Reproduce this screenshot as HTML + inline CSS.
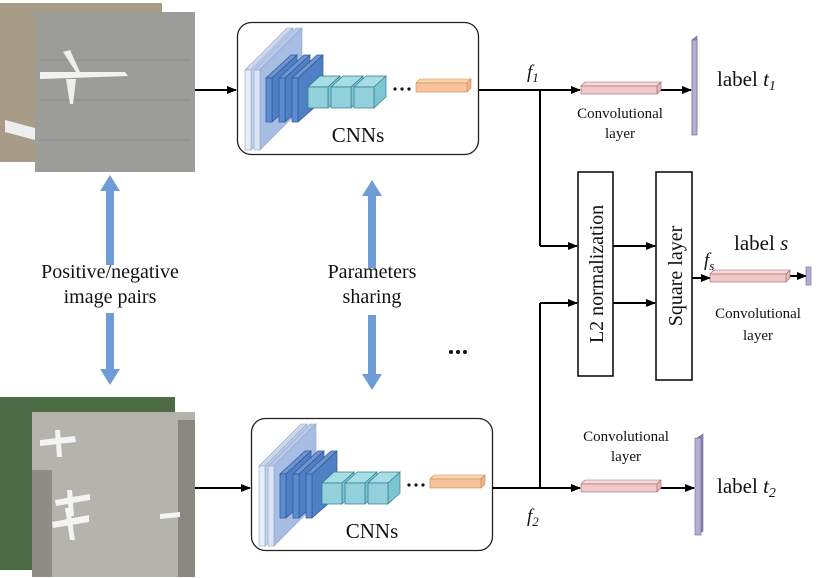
<!DOCTYPE html>
<html><head><meta charset="utf-8"><style>
html,body{margin:0;padding:0;background:#fff}
svg{display:block}
text{font-family:"Liberation Serif",serif;fill:#111}
</style></head><body>
<svg width="820" height="578" viewBox="0 0 820 578" xmlns="http://www.w3.org/2000/svg">
<defs>
<marker id="ah" markerWidth="10" markerHeight="8" refX="9" refY="4" orient="auto" markerUnits="userSpaceOnUse">
<path d="M0,0 L10,4 L0,8 z" fill="#000"/></marker>
<g id="cnn">
<rect x="0.5" y="0.5" width="241" height="132" rx="14" fill="#fff" stroke="#222" stroke-width="1.3"/>
<polygon points="8,48 50,6 56,6 14,48" fill="#cdd8ec" stroke="#8fa6cf" stroke-width="0.6"/>
<polygon points="14,48 56,6 56,86 14,128" fill="#c3d1eb" stroke="#8fa6cf" stroke-width="0.6"/>
<rect x="8" y="48" width="6" height="80" fill="#e8eef8" stroke="#8fa6cf" stroke-width="0.6"/>
<polygon points="17,48 59,6 65,6 23,48" fill="#b8c9e8" stroke="#8fa6cf" stroke-width="0.6"/>
<polygon points="23,48 65,6 65,86 23,128" fill="#a8bde3" stroke="#8fa6cf" stroke-width="0.6"/>
<rect x="17" y="48" width="6" height="80" fill="#dbe4f4" stroke="#8fa6cf" stroke-width="0.6"/>
<g stroke="#2f5597" stroke-width="0.7">
<polygon points="29,56 54,33 60,33 35,56" fill="#6f95d0"/>
<polygon points="35,56 60,33 60,78 35,100" fill="#4f7fc4"/>
<rect x="29" y="56" width="6" height="44" fill="#5b8bd0"/>
<polygon points="42,56 67,33 73,33 48,56" fill="#6f95d0"/>
<polygon points="48,56 73,33 73,78 48,100" fill="#4f7fc4"/>
<rect x="42" y="56" width="6" height="44" fill="#5b8bd0"/>
<polygon points="55,56 80,33 86,33 61,56" fill="#6f95d0"/>
<polygon points="61,56 86,33 86,78 61,100" fill="#4f7fc4"/>
<rect x="55" y="56" width="6" height="44" fill="#5b8bd0"/>
</g>
<g stroke="#2e7d8c" stroke-width="0.7">
<polygon points="71,65 83,54 103,54 91,65" fill="#a8dde6"/>
<polygon points="91,65 103,54 103,75 91,86" fill="#7cc6d3"/>
<rect x="71" y="65" width="20" height="21" fill="#92d0dc"/>
<polygon points="94,65 106,54 126,54 114,65" fill="#a8dde6"/>
<polygon points="114,65 126,54 126,75 114,86" fill="#7cc6d3"/>
<rect x="94" y="65" width="20" height="21" fill="#92d0dc"/>
<polygon points="117,65 129,54 149,54 137,65" fill="#a8dde6"/>
<polygon points="137,65 149,54 149,75 137,86" fill="#7cc6d3"/>
<rect x="117" y="65" width="20" height="21" fill="#92d0dc"/>
</g>
<circle cx="158" cy="67" r="1.6" fill="#111"/><circle cx="165" cy="67" r="1.6" fill="#111"/><circle cx="172" cy="67" r="1.6" fill="#111"/>
<polygon points="179,61 183,57 234,57 230,61" fill="#fbd3b0" stroke="#c98b55" stroke-width="0.6"/>
<polygon points="230,61 234,57 234,66 230,70" fill="#f0b58a" stroke="#c98b55" stroke-width="0.6"/>
<rect x="179" y="61" width="51" height="9" fill="#f8c39b" stroke="#c98b55" stroke-width="0.6"/>
<text x="121" y="120" font-size="21" text-anchor="middle">CNNs</text>
</g>
<g id="bar">
<polygon points="0,4 4,0 80,0 76,4" fill="#f6dada" stroke="#a06a6a" stroke-width="0.6"/>
<polygon points="76,4 80,0 80,8 76,12" fill="#e8b9b9" stroke="#a06a6a" stroke-width="0.6"/>
<rect x="0" y="4" width="76" height="8" fill="#f0c8c8" stroke="#a06a6a" stroke-width="0.6"/>
</g>
</defs>

<rect x="0" y="3" width="162" height="159" fill="#a89c88"/>
<rect x="35" y="12" width="160" height="160" fill="#9c9d99"/>
<path d="M40,60 L190,60 M40,100 L190,100 M40,140 L190,140" stroke="#8c8d89" stroke-width="1"/>
<polygon points="40,72 125,72 128,76 40,79" fill="#f2f2f2"/>
<polygon points="63,52 76,72 80,72 70,50" fill="#eee"/>
<polygon points="66,79 76,79 73,104 70,104" fill="#eee"/>
<polygon points="5,120 35,128 35,140 5,132" fill="#eee"/>
<rect x="0" y="397" width="175" height="173" fill="#4d6b44"/>
<rect x="32" y="412" width="163" height="165" fill="#b4b3ac"/>
<rect x="32" y="470" width="20" height="107" fill="#8f8d86"/>
<rect x="178" y="420" width="17" height="157" fill="#8a8880"/>
<g fill="#f4f4f4">
<polygon points="40,440 75,436 76,442 40,446"/><polygon points="55,430 60,430 62,457 57,457"/>
<polygon points="55,500 90,494 90,500 56,506"/><polygon points="67,490 72,490 74,516 69,516"/>
<polygon points="52,522 89,515 89,522 53,528"/><polygon points="65,508 70,508 75,540 70,540"/>
<polygon points="160,514 180,512 180,517 160,519"/>
</g>

<use href="#cnn" x="237" y="22"/>
<use href="#cnn" x="251" y="418"/>

<g stroke="#000" stroke-width="2" fill="none">
<line x1="195" y1="90" x2="236" y2="90" marker-end="url(#ah)"/>
<line x1="195" y1="488" x2="250" y2="488" marker-end="url(#ah)"/>
<line x1="479" y1="90" x2="540" y2="90"/>
<line x1="540" y1="90" x2="540" y2="246"/>
<line x1="540" y1="246" x2="577" y2="246" marker-end="url(#ah)"/>
<line x1="540" y1="90" x2="580" y2="90" marker-end="url(#ah)"/>
<line x1="660" y1="90" x2="691" y2="90" marker-end="url(#ah)"/>
<line x1="493" y1="488" x2="540" y2="488"/>
<line x1="540" y1="488" x2="540" y2="303"/>
<line x1="540" y1="303" x2="577" y2="303" marker-end="url(#ah)"/>
<line x1="540" y1="488" x2="580" y2="488" marker-end="url(#ah)"/>
<line x1="660" y1="488" x2="694" y2="488" marker-end="url(#ah)"/>
<line x1="613" y1="246" x2="655" y2="246" marker-end="url(#ah)"/>
<line x1="613" y1="303" x2="655" y2="303" marker-end="url(#ah)"/>
<line x1="692" y1="278" x2="710" y2="278" marker-end="url(#ah)"/>
<line x1="790" y1="276" x2="806" y2="276" marker-end="url(#ah)"/>
</g>

<use href="#bar" x="581" y="82"/>
<use href="#bar" x="581" y="480"/>
<use href="#bar" x="710" y="270"/>

<polygon points="692,40 697,36 697,131 692,135" fill="#8d86b0" stroke="#6b6490" stroke-width="0.6"/>
<rect x="692" y="40" width="5" height="95" fill="#b5aed2" stroke="#6b6490" stroke-width="0.6"/>
<polygon points="697,438 703,434 703,531 697,535" fill="#8d86b0" stroke="#6b6490" stroke-width="0.6"/>
<rect x="695" y="438" width="6" height="97" fill="#b5aed2" stroke="#6b6490" stroke-width="0.6"/>
<rect x="806" y="267" width="5" height="18" fill="#b5aed2" stroke="#6b6490" stroke-width="0.6"/>

<rect x="578" y="172" width="35" height="204" fill="#fff" stroke="#000" stroke-width="1.5"/>
<rect x="656" y="172" width="36" height="208" fill="#fff" stroke="#000" stroke-width="1.5"/>
<text transform="translate(603,274) rotate(-90)" font-size="20" text-anchor="middle">L2 normalization</text>
<text transform="translate(682,276) rotate(-90)" font-size="20" text-anchor="middle">Square layer</text>

<g fill="#6f9bd6">
<polygon points="110,175 100,191 106,191 106,265 114,265 114,191 120,191"/>
<polygon points="110,385 100,369 106,369 106,313 114,313 114,369 120,369"/>
<polygon points="372,180 362,196 368,196 368,268 376,268 376,196 382,196"/>
<polygon points="372,390 362,374 368,374 368,315 376,315 376,374 382,374"/>
</g>

<text x="110" y="278" font-size="20" text-anchor="middle">Positive/negative</text>
<text x="110" y="303" font-size="20" text-anchor="middle">image pairs</text>
<text x="372" y="278" font-size="20" text-anchor="middle">Parameters</text>
<text x="372" y="303" font-size="20" text-anchor="middle">sharing</text>
<circle cx="451" cy="352" r="2" fill="#111"/><circle cx="458" cy="352" r="2" fill="#111"/><circle cx="465" cy="352" r="2" fill="#111"/>
<text x="527" y="78" font-size="19" font-style="italic">f<tspan font-size="13" dy="4">1</tspan></text>
<text x="527" y="522" font-size="19" font-style="italic">f<tspan font-size="13" dy="4">2</tspan></text>
<text x="704" y="266" font-size="19" font-style="italic">f<tspan font-size="13" dy="4">s</tspan></text>
<text x="620" y="118" font-size="15" text-anchor="middle">Convolutional</text>
<text x="620" y="138" font-size="15" text-anchor="middle">layer</text>
<text x="626" y="441" font-size="15" text-anchor="middle">Convolutional</text>
<text x="626" y="461" font-size="15" text-anchor="middle">layer</text>
<text x="758" y="318" font-size="15" text-anchor="middle">Convolutional</text>
<text x="758" y="340" font-size="15" text-anchor="middle">layer</text>
<text x="717" y="86" font-size="21">label <tspan font-style="italic">t<tspan font-size="14" dy="4">1</tspan></tspan></text>
<text x="717" y="493" font-size="21">label <tspan font-style="italic">t<tspan font-size="14" dy="4">2</tspan></tspan></text>
<text x="734" y="250" font-size="21">label <tspan font-style="italic">s</tspan></text>
</svg>
</body></html>
